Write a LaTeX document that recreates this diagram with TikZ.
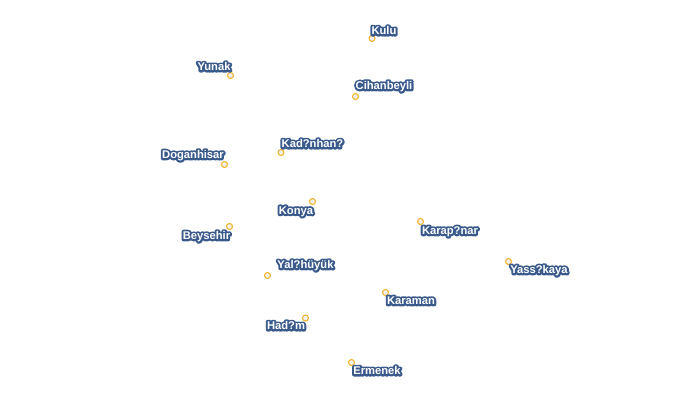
\documentclass[tikz,border=0pt]{standalone}
\usepackage{fontspec}
\usepackage{xcolor}
\setmainfont{Liberation Sans}
\definecolor{dotrim}{HTML}{F3B52E}
\definecolor{dotfill}{HTML}{F0F0F0}
\newcommand{\townname}[1]{\special{pdf:code q 2 Tr 4 w 1 j 1 J 0.227 0.353 0.549 RG 0.227 0.353 0.549 rg}\rlap{#1}\special{pdf:code Q}#1}

\begin{document}
\begin{tikzpicture}[x=1pt,y=-1pt,
                    town node/.style={circle,draw=dotrim,fill=dotfill,line width=1.1pt,inner sep=0pt,minimum size=6pt},
                    name node/.style={inner sep=0pt,text=white,font=\fontsize{11.2}{13}\selectfont\bfseries}]
  \useasboundingbox (0,0) rectangle (700,410);

  \node[town node] (kulu) at (372,38.5) {};
  \node[town node] (yunak) at (230.5,75.5) {};
  \node[town node] (cihanbeyli) at (355.5,96.5) {};
  \node[town node] (kadinhani) at (281,152.5) {};
  \node[town node] (doganhisar) at (224.5,164.5) {};
  \node[town node] (konya) at (312.5,201.5) {};
  \node[town node] (beysehir) at (229.5,226.5) {};
  \node[town node] (karapinar) at (420.5,221.5) {};
  \node[town node] (yalihuyuk) at (267.5,275.5) {};
  \node[town node] (yassikaya) at (508.5,261.5) {};
  \node[town node] (karaman) at (385.5,292.5) {};
  \node[town node] (hadim) at (305.5,318) {};
  \node[town node] (ermenek) at (351.5,362.5) {};

  \node[name node] (kulu label) at (384,30.5) {\townname{Kulu}};
  \node[name node] (yunak label) at (214,66.5) {\townname{Yunak}};
  \node[name node] (cihanbeyli label) at (384,86.5) {\townname{Cihanbeyli}};
  \node[name node] (kadinhani label) at (312.5,143.5) {\townname{Kad?nhan?}};
  \node[name node] (doganhisar label) at (193,155.5) {\townname{Doganhisar}};
  \node[name node] (konya label) at (296,211.5) {\townname{Konya}};
  \node[name node] (beysehir label) at (206.5,236.5) {\townname{Beysehir}};
  \node[name node] (karapinar label) at (450,231.5) {\townname{Karap?nar}};
  \node[name node] (yalihuyuk label) at (305.5,265.5) {\townname{Yal?hüyük}};
  \node[name node] (yassikaya label) at (539,270.5) {\townname{Yass?kaya}};
  \node[name node] (karaman label) at (411,300.5) {\townname{Karaman}};
  \node[name node] (hadim label) at (286,325.5) {\townname{Had?m}};
  \node[name node] (ermenek label) at (377,370.5) {\townname{Ermenek}};
\end{tikzpicture}
\end{document}
